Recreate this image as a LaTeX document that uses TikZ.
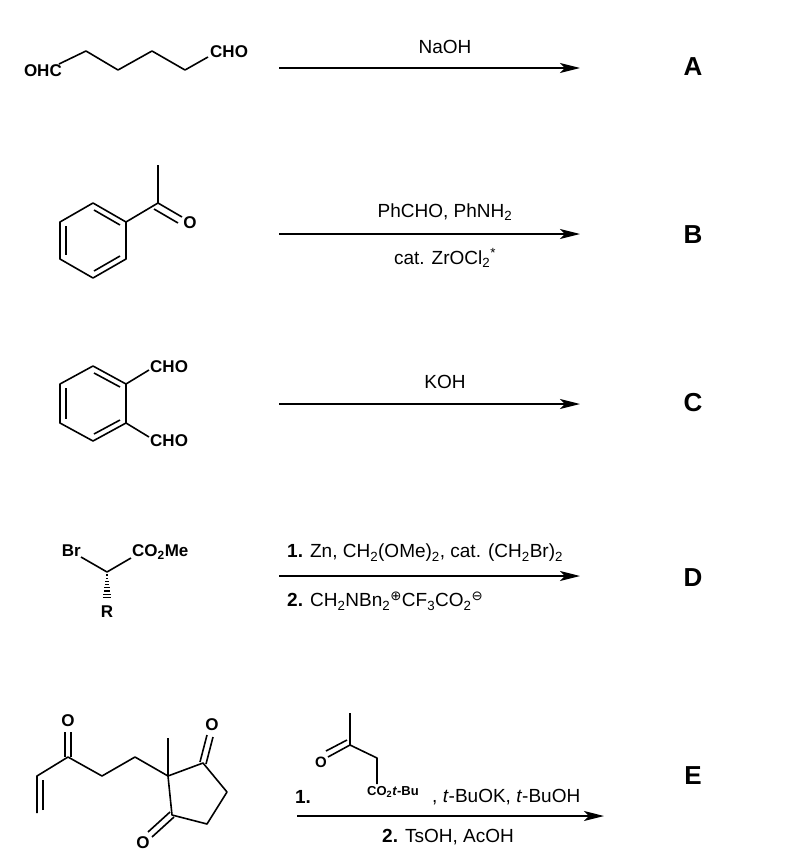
\documentclass[tikz,border=0pt]{standalone}
\usepackage{fontspec}
\setmainfont{Liberation Sans}
\newfontfamily\djv{DejaVu Sans}
\usetikzlibrary{arrows.meta}
\tikzset{
  bond/.style={line width=1.6pt,line join=round},
  atom/.style={font=\fontsize{17}{18}\selectfont\bfseries,inner sep=0pt},
  reag/.style={font=\fontsize{19}{21}\selectfont,inner sep=0pt},
  lett/.style={font=\fontsize{26}{28}\selectfont\bfseries,inner sep=0pt},
  rxn/.style={line width=1.4pt,-{Stealth[length=20pt,width=10pt,inset=5pt]}}
}
\begin{document}
\begin{tikzpicture}[x=1pt,y=-1pt]
\useasboundingbox (0,0) rectangle (810,851);
% ---------- Row A
\node[atom,anchor=east] (ohc) at (62,71) {OHC};
\node[atom,anchor=west] (cho) at (210,52) {CHO};
\draw[bond] (59,64)--(86,51)--(118,70)--(152,51)--(185,70)--(208,57);
\coordinate (a1) at (279,68); \coordinate (a2) at (580,68);
\draw[rxn] (a1)--(a2);
\node[reag] (naoh) at (445,47) {NaOH};
\node[lett] (A) at (693,67) {A};
% ---------- Row B
\draw[bond] (60,222)--(93,203)--(126,222)--(126,259)--(93,278)--(60,259)--cycle;
\draw[bond] (94,210)--(120,225);
\draw[bond] (66,226)--(66,255);
\draw[bond] (94,271)--(120,256);
\draw[bond] (126,222)--(158,203)--(158,165);
\draw[bond] (158,203)--(182,217);
\draw[bond] (154,209)--(178,223);
\node[atom] (ob) at (190,223) {O};
\coordinate (b1) at (279,234); \coordinate (b2) at (580,234);
\draw[rxn] (b1)--(b2);
\node[reag] (phcho) at (445,212) {PhCHO, PhNH\textsubscript{2}};
\node[reag] (zr) at (445,258) {cat. ZrOCl\textsubscript{2}\textsuperscript{*}};
\node[lett] (B) at (693,235) {B};
% ---------- Row C
\draw[bond] (60,384)--(93,366)--(126,384)--(126,423)--(93,441)--(60,423)--cycle;
\draw[bond] (94,373)--(120,387);
\draw[bond] (66,388)--(66,419);
\draw[bond] (94,434)--(120,420);
\draw[bond] (126,384)--(149,370);
\draw[bond] (126,423)--(149,437);
\node[atom,anchor=west] (cho1) at (150,367) {CHO};
\node[atom,anchor=west] (cho2) at (150,441) {CHO};
\coordinate (c1) at (279,404); \coordinate (c2) at (580,404);
\draw[rxn] (c1)--(c2);
\node[reag] (koh) at (445,382) {KOH};
\node[lett] (C) at (693,403) {C};
% ---------- Row D
\node[atom,anchor=east] (br) at (81,551) {Br};
\node[atom,anchor=west] (co2me) at (132,552) {CO\textsubscript{2}Me};
\draw[bond] (81,557)--(107,572)--(131,558);
\foreach \i in {0,...,7}{
  \pgfmathsetmacro{\yy}{575+\i*3.2}
  \pgfmathsetmacro{\ww}{0.6+\i*0.5}
  \draw[line width=1.1pt] (107-\ww,\yy)--(107+\ww,\yy);
}
\node[atom] (r) at (107,612) {R};
\coordinate (d1) at (279,576); \coordinate (d2) at (580,576);
\draw[rxn] (d1)--(d2);
\node[reag,anchor=west] (d1t) at (287,553) {\textbf{1.} Zn, CH\textsubscript{2}(OMe)\textsubscript{2}, cat. (CH\textsubscript{2}Br)\textsubscript{2}};
\node[reag,anchor=west] (d2t) at (287,601) {\textbf{2.} CH\textsubscript{2}NBn\textsubscript{2}\textsuperscript{\djv ⊕}CF\textsubscript{3}CO\textsubscript{2}\textsuperscript{\djv ⊖}};
\node[lett] (D) at (693,578) {D};
% ---------- Row E
\draw[bond] (37,813)--(37,776)--(68,757)--(102,776)--(135,757)--(168,776)--(168,738);
\draw[bond] (43,810)--(43,780);
\draw[bond] (65,757)--(65,732);
\draw[bond] (71,757)--(71,732);
\node[atom] (oe1) at (68,721) {O};
\draw[bond] (168,776)--(203,763)--(227,792)--(207,824)--(172,815)--cycle;
\draw[bond] (200,762)--(207,735);
\draw[bond] (206,764)--(213,737);
\node[atom] (oe2) at (212,725) {O};
\draw[bond] (170,812)--(148,832);
\draw[bond] (174,817)--(152,837);
\node[atom] (oe3) at (143,843) {O};
% reagent molecule
\draw[bond] (350,713)--(350,745)--(377,758)--(377,784);
\draw[bond] (350,745)--(328,757);
\draw[bond] (347,740)--(326,751);
\node[atom,font=\fontsize{15}{16}\selectfont\bfseries] (oe4) at (321,762) {O};
\node[atom,anchor=west,font=\fontsize{13}{14}\selectfont\bfseries] (cotbu) at (367,792) {CO\textsubscript{2}\textit{t}-Bu};
\node[reag,anchor=west] (tbuok) at (432,797) {, \textit{t}-BuOK, \textit{t}-BuOH};
\node[reag] (one) at (303,797) {\textbf{1.}};
\coordinate (e1) at (297,816); \coordinate (e2) at (604,816);
\draw[rxn] (e1)--(e2);
\node[reag] (tsoh) at (448,837) {\textbf{2.} TsOH, AcOH};
\node[lett] (E) at (693,776) {E};
\end{tikzpicture}
\end{document}
